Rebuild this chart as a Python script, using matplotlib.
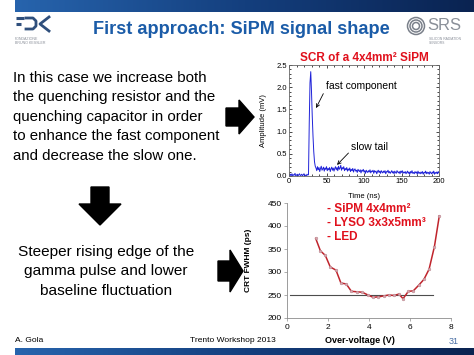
import matplotlib.pyplot as plt
import numpy as np
from matplotlib.patches import Polygon, Circle
from matplotlib.ticker import MultipleLocator, FormatStrFormatter
from matplotlib.colors import LinearSegmentedColormap

plt.rcParams['font.family'] = ['Liberation Sans', 'DejaVu Sans']

# SCR waveform of the 4x4mm2 SiPM, one sample per ns (mV)
time_ns = np.arange(0, 201)
baseline_mv = [0.03, 0.00, 0.04, 0.01, 0.05, 0.00, 0.03, 0.02, 0.06, 0.00,
               0.02, 0.04, 0.00, 0.03, 0.05, 0.01, 0.02, 0.04, 0.00, 0.03,
               0.05, 0.01, 0.02, 0.00, 0.04, 0.02, 0.03]
pulse_mv = [1.20, 2.10, 2.35, 1.90, 1.35, 0.90, 0.55, 0.32, 0.22]
tail_mv = [0.18, 0.12, 0.21, 0.14, 0.19, 0.10, 0.17, 0.22, 0.13, 0.16,
           0.20, 0.11, 0.18, 0.15, 0.21, 0.12, 0.17, 0.14, 0.19, 0.10,
           0.16, 0.20, 0.13, 0.18, 0.11, 0.17, 0.21, 0.14, 0.19, 0.12,
           0.22, 0.15, 0.18, 0.24, 0.13, 0.19, 0.16, 0.21, 0.12, 0.17,
           0.14, 0.19, 0.11, 0.16, 0.13, 0.18, 0.10, 0.15, 0.12, 0.17,
           0.09, 0.14, 0.16, 0.11, 0.13, 0.08, 0.15, 0.12, 0.10, 0.14,
           0.07, 0.13, 0.11, 0.15, 0.09, 0.12, 0.06, 0.13, 0.10, 0.08,
           0.12, 0.09, 0.14, 0.07, 0.11, 0.10, 0.13, 0.06, 0.12, 0.09,
           0.11, 0.05, 0.10, 0.13, 0.08, 0.11, 0.06, 0.12, 0.09, 0.07,
           0.11, 0.08, 0.12, 0.05, 0.10, 0.09, 0.13, 0.07, 0.10, 0.06,
           0.09, 0.12, 0.07, 0.10, 0.05, 0.11, 0.08, 0.06, 0.12, 0.09,
           0.07, 0.10, 0.05, 0.11, 0.08, 0.12, 0.06, 0.09, 0.07, 0.10,
           0.05, 0.08, 0.11, 0.06, 0.09, 0.04, 0.10, 0.07, 0.12, 0.06,
           0.08, 0.05, 0.10, 0.07, 0.09, 0.04, 0.11, 0.06, 0.08, 0.05,
           0.09, 0.06, 0.10, 0.04, 0.08, 0.07, 0.11, 0.05, 0.09, 0.06,
           0.08, 0.04, 0.10, 0.07, 0.05, 0.09, 0.06, 0.11, 0.04, 0.08,
           0.06, 0.09, 0.05, 0.10, 0.07]
amplitude_mv = baseline_mv + pulse_mv + tail_mv

# CRT vs over-voltage
overvoltage = [1.40, 1.63, 1.87, 2.11, 2.39, 2.63, 2.89, 3.14, 3.41, 3.67,
               3.95, 4.20, 4.46, 4.72, 4.96, 5.22, 5.46, 5.66, 5.92, 6.16,
               6.42, 6.68, 6.93, 7.19, 7.43]
crt_fwhm = [373, 346, 336, 311, 304, 276, 274, 258, 257, 256,
            250, 245, 246, 248, 250, 249, 252, 242, 258, 259,
            271, 284, 306, 355, 422]
ref_crt = 251
ref_span = [0.13, 7.12]

left_lines = ['In this case we increase both',
              'the quenching resistor and the',
              'quenching capacitor in order',
              'to enhance the fast component',
              'and decrease the slow one.']
result_lines = ['Steeper rising edge of the',
                'gamma pulse and lower',
                'baseline fluctuation']
setup_lines = ['- SiPM 4x4mm²', '- LYSO 3x3x5mm³', '- LED']

W, H = 474, 355
fig = plt.figure(figsize=(W / 100, H / 100), dpi=100)
bg = fig.add_axes([0, 0, 1, 1])
bg.axis('off')


def px_axes(l, t, r, b):
    ax = fig.add_axes([l / W, 1 - b / H, (r - l) / W, (b - t) / H])
    ax.set_facecolor('none')
    return ax


# header / footer bars
bar_cmap = LinearSegmentedColormap.from_list('bar', ['#2764ad', '#143f7e', '#0a2351'])
grad = np.linspace(0, 1, 256)[None, :]
bg.imshow(grad, cmap=bar_cmap, extent=(15, W, 12, 0), aspect='auto')
bg.imshow(grad, cmap=bar_cmap, extent=(15, W, H, 348), aspect='auto')
bg.set_xlim(0, W)
bg.set_ylim(H, 0)

# FBK logo
logo_c = '#2f4f7c'
bg.plot([16, 24], [18, 18], color=logo_c, lw=2.2, solid_capstyle='butt')
bg.plot([16, 21], [24, 24], color=logo_c, lw=2.2, solid_capstyle='butt')
bg.plot([26, 33, 36, 36, 33, 26], [18, 18, 21, 26, 29, 29], color=logo_c, lw=2)
bg.plot([49, 40, 49], [17, 24, 31], color=logo_c, lw=2)
bg.text(15, 37, 'FONDAZIONE\nBRUNO KESSLER', fontsize=2.6, color='#8a8f99',
        va='top', ha='left', linespacing=1.1)

# SRS logo
for r in (8.5, 6, 3.5):
    bg.add_patch(Circle((416, 26), r, fill=False, ec='#7a808a', lw=1.1))
bg.text(427, 26, 'SRS', fontsize=12, color='#8a9099', va='center', ha='left')
bg.text(429, 37, 'SILICON RADIATION\nSENSORS', fontsize=2.4, color='#8a8f99',
        va='top', ha='left', linespacing=1.1)

bg.text(241, 30, 'First approach: SiPM signal shape', fontsize=13.1,
        fontweight='bold', color='#1b5ca8', ha='center', va='center')

# left text blocks
for i, line in enumerate(left_lines):
    bg.text(13, 78 + i * 19.4, line, fontsize=10.8, ha='left', va='center')
for i, line in enumerate(result_lines):
    bg.text(106, 252 + i * 19.5, line, fontsize=11.1, ha='center', va='center')

# block arrows
bg.add_patch(Polygon([(226, 108), (239, 108), (239, 100), (254, 117),
                      (239, 134), (239, 126), (226, 126)], closed=True, color='black'))
bg.add_patch(Polygon([(91, 187), (109, 187), (109, 204), (121, 204),
                      (100, 225), (79, 204), (91, 204)], closed=True, color='black'))
bg.add_patch(Polygon([(218, 261), (230, 261), (230, 250), (243, 271),
                      (230, 292), (230, 281), (218, 281)], closed=True, color='black'))

# footer text
bg.text(15, 341, 'A. Gola', fontsize=6, ha='left', va='center')
bg.text(190, 341, 'Trento Workshop 2013', fontsize=6, ha='left', va='center')
bg.text(449, 341, '31', fontsize=6.5, color='#4a6fa5', ha='left', va='center')

# top chart: SCR waveform
ax1 = px_axes(289, 65, 439, 176)
ax1.plot(time_ns, amplitude_mv, color='#1f22d8', lw=0.7)
ax1.set_xlim(0, 200)
ax1.set_ylim(0, 2.5)
ax1.set_xticks([0, 50, 100, 150, 200])
ax1.set_yticks(np.arange(0, 2.51, 0.5))
ax1.yaxis.set_major_formatter(FormatStrFormatter('%.1f'))
ax1.xaxis.set_minor_locator(MultipleLocator(10))
ax1.yaxis.set_minor_locator(MultipleLocator(0.1))
ax1.tick_params(which='both', direction='in', top=True, right=True,
                width=0.5, labelsize=5.5, pad=1.5)
ax1.tick_params(which='major', length=2.5)
ax1.tick_params(which='minor', length=1.2)
for s in ax1.spines.values():
    s.set_color('#666666')
    s.set_linewidth(0.6)
ax1.set_xlabel('Time (ns)', fontsize=5.5)
ax1.set_ylabel('Amplitude (mV)', fontsize=5.5)
ax1.xaxis.set_label_coords(0.5, -0.153)
ax1.yaxis.set_label_coords(-0.147, 0.5)
ax1.set_title('SCR of a 4x4mm² SiPM', fontsize=8.5, fontweight='bold',
              color='#e0101c', pad=3)
arrow_kw = dict(arrowstyle='->', lw=0.6, color='black', shrinkA=0, shrinkB=0,
                relpos=(0, 0.2), mutation_scale=6)
ax1.annotate('fast component', xy=(36, 1.53), xytext=(49, 2.03), fontsize=7.5,
             va='center', arrowprops=arrow_kw)
ax1.annotate('slow tail', xy=(64, 0.25), xytext=(83, 0.65), fontsize=7.5,
             va='center', arrowprops=arrow_kw)

# bottom chart: CRT vs over-voltage
ax2 = px_axes(287, 203, 451, 318)
ax2.plot(ref_span, [ref_crt, ref_crt], color='#4d4d4d', lw=0.8)
ax2.plot(overvoltage, crt_fwhm, color='#c0242c', lw=1.1, marker='o', ms=2,
         mfc='#d9a8b0', mec='#b07a84', mew=0.3)
ax2.set_xlim(0, 8)
ax2.set_ylim(200, 450)
ax2.set_xticks([0, 2, 4, 6, 8])
ax2.set_yticks([200, 250, 300, 350, 400, 450])
ax2.spines['top'].set_visible(False)
ax2.spines['right'].set_visible(False)
for s in ('left', 'bottom'):
    ax2.spines[s].set_color('#8c8c8c')
    ax2.spines[s].set_linewidth(0.6)
ax2.tick_params(direction='out', length=2, width=0.5, color='#8c8c8c',
                labelsize=6, pad=2)
ax2.set_xlabel('Over-voltage (V)', fontsize=6.5, fontweight='bold')
ax2.set_ylabel('CRT FWHM (ps)', fontsize=6, fontweight='bold')
ax2.xaxis.set_label_coords(0.445, -0.16)
ax2.yaxis.set_label_coords(-0.215, 0.5)
for i, line in enumerate(setup_lines):
    ax2.text(327, 209 + i * 14, line, fontsize=8.5, fontweight='bold',
             color='#e0101c', ha='left', va='center', transform=bg.transData)

fig.savefig('out.png', dpi=100)
